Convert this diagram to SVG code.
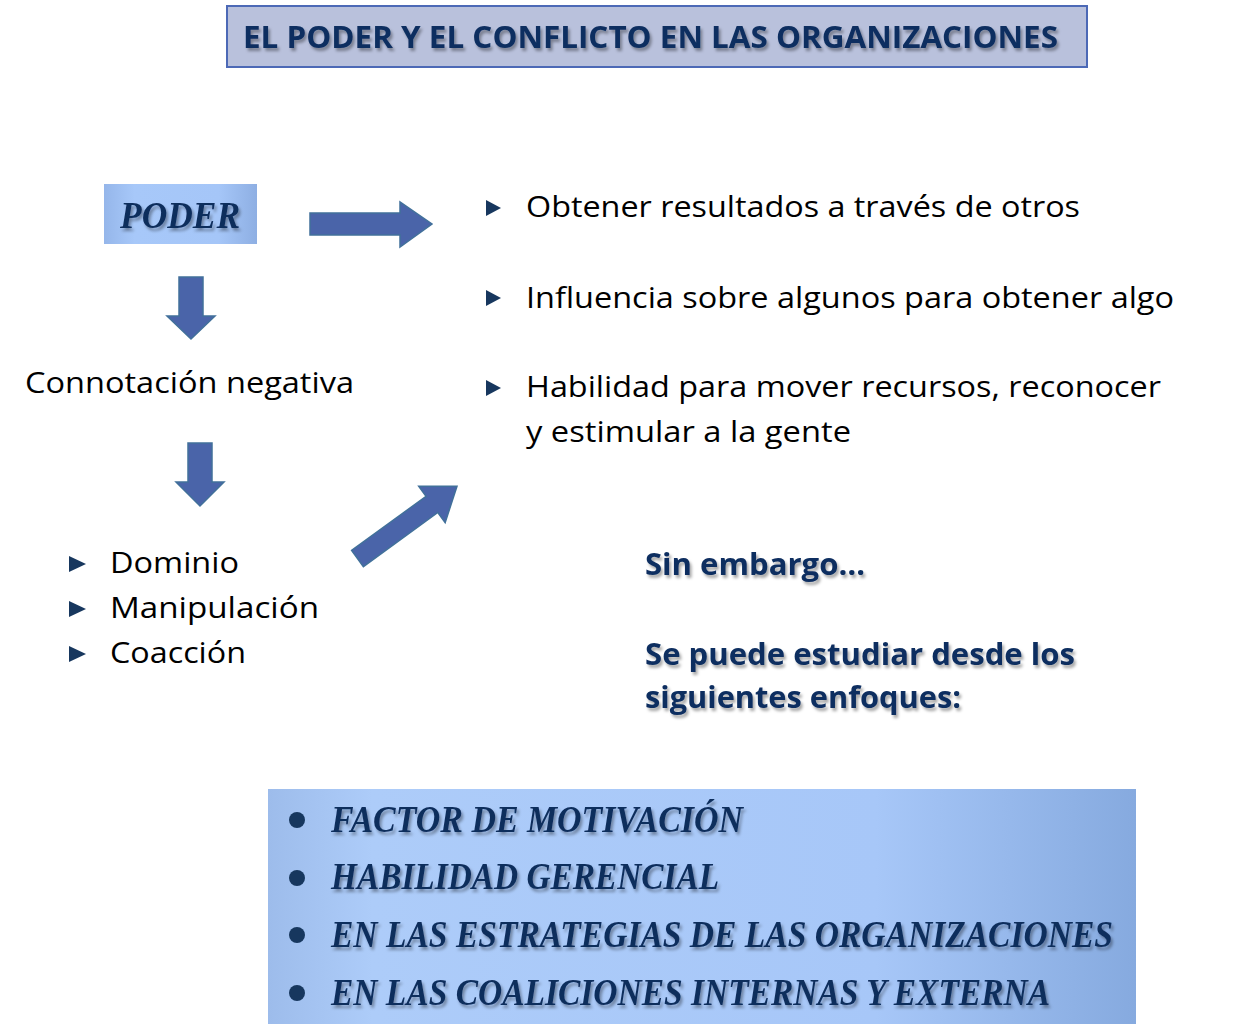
<svg xmlns="http://www.w3.org/2000/svg" width="1240" height="1024" viewBox="0 0 1240 1024">
<style>
.body{font-family:"Open Sans","Noto Sans","Liberation Sans",sans-serif;font-size:29px;fill:#000}
.bold{font-family:"Open Sans","Noto Sans","Liberation Sans",sans-serif;font-weight:bold;fill:#102F60}
.serif{font-family:"Liberation Serif","DejaVu Serif",serif;font-weight:bold;font-style:italic;fill:#0F2D5C}
.arrow{fill:#4A64A9;stroke:#41709A;stroke-width:1.5}
.tri{fill:#17375E}
</style>
<defs>
<filter id="sh" x="-5%" y="-20%" width="110%" height="150%">
<feDropShadow dx="2" dy="3" stdDeviation="1.5" flood-color="#000" flood-opacity="0.35"/>
</filter>
<linearGradient id="gBox" x1="0" y1="0" x2="1" y2="0">
<stop offset="0" stop-color="#9DBCEB"/>
<stop offset="0.12" stop-color="#ADCCF9"/>
<stop offset="0.7" stop-color="#A7C7F8"/>
<stop offset="1" stop-color="#86AADF"/>
</linearGradient>
<linearGradient id="gPoder" x1="0" y1="0" x2="1" y2="0">
<stop offset="0" stop-color="#95B6EA"/>
<stop offset="0.2" stop-color="#A7C8F9"/>
<stop offset="0.75" stop-color="#A5C6F8"/>
<stop offset="1" stop-color="#8EAFE3"/>
</linearGradient>
</defs>
<rect width="1240" height="1024" fill="#fff"/>

<g id="title">
<rect x="227" y="6" width="860" height="61" fill="#B9C1DC" stroke="#4C69B6" stroke-width="2"/>
<text class="bold" x="243" y="48" font-size="31" textLength="815" lengthAdjust="spacingAndGlyphs" filter="url(#sh)">EL PODER Y EL CONFLICTO EN LAS ORGANIZACIONES</text>
</g>

<g id="poder">
<rect x="104" y="184" width="153" height="60" fill="url(#gPoder)"/>
<text class="serif" x="120" y="228" font-size="38" textLength="120" lengthAdjust="spacingAndGlyphs" filter="url(#sh)">PODER</text>
</g>

<g id="definiciones">
<polygon class="tri" points="486,200 501,208 486,216"/>
<text class="body" x="526" y="217" textLength="554" lengthAdjust="spacingAndGlyphs">Obtener resultados a través de otros</text>
<polygon class="tri" points="486,290 501,298 486,306"/>
<text class="body" x="526" y="308" textLength="648" lengthAdjust="spacingAndGlyphs">Influencia sobre algunos para obtener algo</text>
<polygon class="tri" points="486,380 501,388 486,396"/>
<text class="body" x="526" y="397" textLength="635" lengthAdjust="spacingAndGlyphs">Habilidad para mover recursos, reconocer</text>
<text class="body" x="526" y="442" textLength="325" lengthAdjust="spacingAndGlyphs">y estimular a la gente</text>
</g>

<g id="connotacion">
<text class="body" x="25" y="393" textLength="329" lengthAdjust="spacingAndGlyphs">Connotación negativa</text>
</g>

<g id="negativos">
<polygon class="tri" points="69,556 86,564 69,572"/>
<text class="body" x="110" y="573" textLength="129" lengthAdjust="spacingAndGlyphs">Dominio</text>
<polygon class="tri" points="69,601 86,609 69,617"/>
<text class="body" x="110" y="618" textLength="209" lengthAdjust="spacingAndGlyphs">Manipulación</text>
<polygon class="tri" points="69,646 86,654 69,662"/>
<text class="body" x="110" y="663" textLength="136" lengthAdjust="spacingAndGlyphs">Coacción</text>
</g>

<g id="sin-embargo">
<text class="bold" x="645" y="575" font-size="31" textLength="220" lengthAdjust="spacingAndGlyphs" filter="url(#sh)">Sin embargo…</text>
<text class="bold" x="645" y="665" font-size="31" textLength="430" lengthAdjust="spacingAndGlyphs" filter="url(#sh)">Se puede estudiar desde los</text>
<text class="bold" x="645" y="708" font-size="31" textLength="316" lengthAdjust="spacingAndGlyphs" filter="url(#sh)">siguientes enfoques:</text>
</g>

<g id="enfoques">
<rect x="268" y="789" width="868" height="240" fill="url(#gBox)"/>
<circle cx="297" cy="820" r="8" fill="#17375E"/>
<text class="serif" x="331" y="832" font-size="37" textLength="412" lengthAdjust="spacingAndGlyphs" filter="url(#sh)">FACTOR DE MOTIVACIÓN</text>
<circle cx="297" cy="878" r="8" fill="#17375E"/>
<text class="serif" x="331" y="889" font-size="37" textLength="388" lengthAdjust="spacingAndGlyphs" filter="url(#sh)">HABILIDAD GERENCIAL</text>
<circle cx="297" cy="935" r="8" fill="#17375E"/>
<text class="serif" x="331" y="947" font-size="37" textLength="782" lengthAdjust="spacingAndGlyphs" filter="url(#sh)">EN LAS ESTRATEGIAS DE LAS ORGANIZACIONES</text>
<circle cx="297" cy="993" r="8" fill="#17375E"/>
<text class="serif" x="331" y="1005" font-size="37" textLength="719" lengthAdjust="spacingAndGlyphs" filter="url(#sh)">EN LAS COALICIONES INTERNAS Y EXTERNA</text>
</g>

<g id="connectors">
<polygon class="arrow" points="310,213 400,213 400,202 432,224 400,247 400,235 310,235"/>
<polygon class="arrow" points="179,277 203,277 203,316 215,316 191,339 167,316 179,316"/>
<polygon class="arrow" points="188,443 212,443 212,482 224,482 200,506 176,482 188,482"/>
<polygon class="arrow" transform="translate(357.5,558.5) rotate(-36)" points="0,-10 92,-10 92,-22.5 123,0 92,22.5 92,10 0,10"/>
</g>
</svg>
